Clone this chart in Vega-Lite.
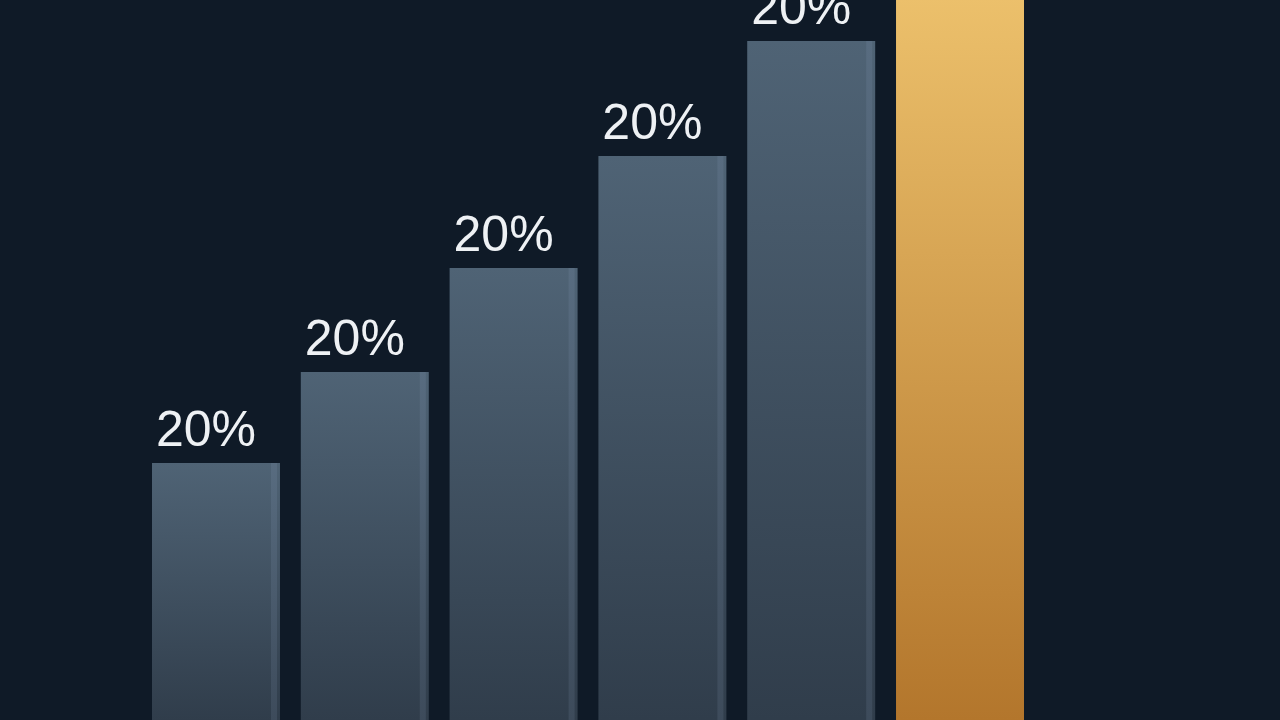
{
  "$schema": "https://vega.github.io/schema/vega-lite/v6.json",
  "autosize": {"type": "none"},
  "width": 1280,
  "height": 720,
  "padding": 0,
  "background": "#0f1a27",
  "config": {"view": {"stroke": null}},
  "data": {
    "values": [
      {"step": "1", "value": 257, "label": "20%", "kind": "base"},
      {"step": "2", "value": 348, "label": "20%", "kind": "base"},
      {"step": "3", "value": 452, "label": "20%", "kind": "base"},
      {"step": "4", "value": 564, "label": "20%", "kind": "base"},
      {"step": "5", "value": 679, "label": "20%", "kind": "base"},
      {"step": "6", "value": 800, "label": "20%", "kind": "highlight"}
    ]
  },
  "encoding": {
    "x": {
      "field": "step",
      "type": "nominal",
      "axis": null,
      "scale": {"range": [152, 1024], "paddingInner": 0.14, "paddingOuter": 0}
    },
    "y": {
      "field": "value",
      "type": "quantitative",
      "axis": null,
      "scale": {"domain": [0, 720], "nice": false, "zero": true}
    }
  },
  "layer": [
    {
      "transform": [{"filter": "datum.kind == 'base'"}],
      "mark": {
        "type": "bar",
        "clip": true,
        "color": {
          "gradient": "linear", "x1": 0, "y1": 0, "x2": 0, "y2": 1,
          "stops": [
            {"offset": 0, "color": "#4f6375"},
            {"offset": 1, "color": "#303d4b"}
          ]
        }
      }
    },
    {
      "transform": [{"filter": "datum.kind == 'base'"}],
      "mark": {
        "type": "bar",
        "clip": true,
        "width": 6,
        "xOffset": 58,
        "color": {
          "gradient": "linear", "x1": 0, "y1": 0, "x2": 0, "y2": 1,
          "stops": [
            {"offset": 0, "color": "#586c80"},
            {"offset": 1, "color": "#3d4b5b"}
          ]
        }
      }
    },
    {
      "transform": [{"filter": "datum.kind == 'highlight'"}],
      "mark": {
        "type": "bar",
        "clip": true,
        "color": {
          "gradient": "linear", "x1": 0, "y1": 0, "x2": 0, "y2": 1,
          "stops": [
            {"offset": 0, "color": "#f2c872"},
            {"offset": 1, "color": "#b3762c"}
          ]
        }
      }
    },
    {
      "transform": [{"filter": "datum.kind == 'base'"}],
      "mark": {
        "type": "text",
        "baseline": "alphabetic",
        "align": "center",
        "dx": -10,
        "dy": -17,
        "font": "Liberation Sans",
        "fontSize": 50,
        "color": "#eef1f4"
      },
      "encoding": {"text": {"field": "label"}}
    }
  ]
}
